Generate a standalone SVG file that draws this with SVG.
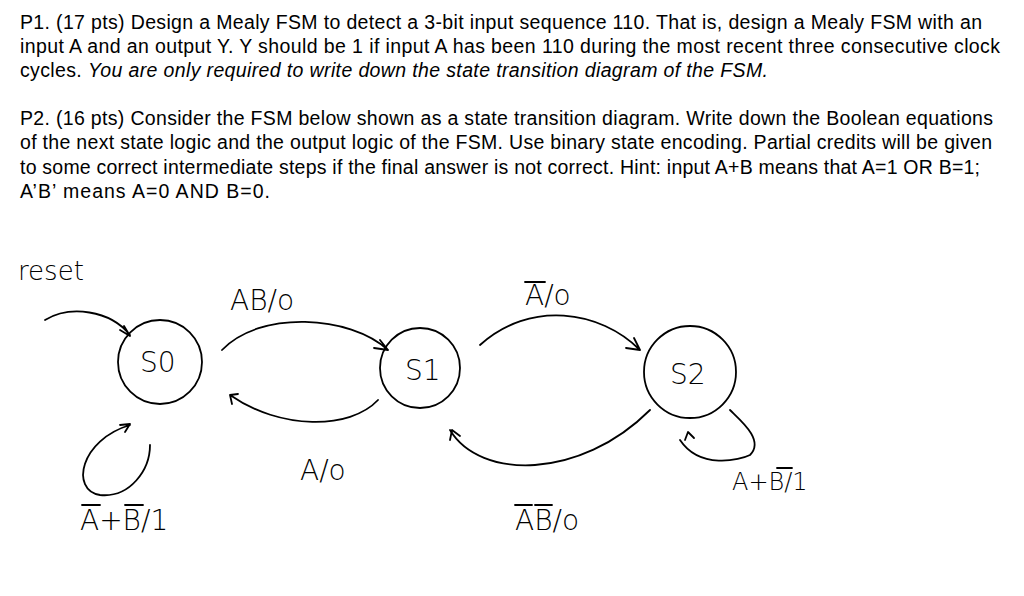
<svg xmlns="http://www.w3.org/2000/svg" width="1024" height="596" viewBox="0 0 1024 596">
<style>
.t{font-family:"Liberation Sans",Arial,sans-serif;font-size:19.5px;fill:#000}
.i{font-style:italic}
.h{font-family:"DejaVu Sans",sans-serif;font-size:28px;fill:#000;font-weight:200}
.s{fill:none;stroke:#000;stroke-width:1.8;stroke-linecap:round;stroke-linejoin:round}
</style>
<rect width="1024" height="596" fill="#fff"/>
<text class="t" x="20" y="29" textLength="962">P1. (17 pts) Design a Mealy FSM to detect a 3-bit input sequence 110. That is, design a Mealy FSM with an</text>
<text class="t" x="20" y="53" textLength="980">input A and an output Y. Y should be 1 if input A has been 110 during the most recent three consecutive clock</text>
<text class="t" x="20" y="77" textLength="748">cycles. <tspan class="i">You are only required to write down the state transition diagram of the FSM.</tspan></text>
<text class="t" x="20" y="125" textLength="973">P2. (16 pts) Consider the FSM below shown as a state transition diagram. Write down the Boolean equations</text>
<text class="t" x="20" y="149" textLength="972">of the next state logic and the output logic of the FSM. Use binary state encoding. Partial credits will be given</text>
<text class="t" x="20" y="174" textLength="960">to some correct intermediate steps if the final answer is not correct. Hint: input A+B means that A=1 OR B=1;</text>
<text class="t" x="20" y="198" textLength="250">A’B’ means A=0 AND B=0.</text>
<g id="S0"><circle class="s" cx="160" cy="362" r="42"/><text class="h" x="140" y="372">S0</text></g>
<g id="S1"><circle class="s" cx="420" cy="368" r="40"/><text class="h" x="405" y="380">S1</text></g>
<g id="S2"><circle class="s" cx="690" cy="372" r="46"/><text class="h" x="670" y="384">S2</text></g>
<g id="connectors">
<path class="s" d="M45 320 C70 305 110 310 130 335 M120 330 L130 336 L124 326"/>
<path class="s" d="M222 350 C260 310 350 315 388 350 M374 348 L388 350 L380 340"/>
<path class="s" d="M378 400 C350 430 280 430 230 395 M238 394 L230 395 L232 404"/>
<path class="s" d="M480 345 C530 300 600 310 640 350 M626 348 L640 350 L634 338"/>
<path class="s" d="M450 430 C480 480 580 480 650 410"/>
<path class="s" d="M450 440 L452 430 L460 436"/>
<path class="s" d="M130 425 C80 440 70 490 100 495 C130 498 150 470 150 445 M120 425 L130 424 L125 432"/>
<path class="s" d="M680 440 C700 470 740 460 750 455 C765 440 740 420 730 410"/>
<path class="s" d="M685 440 L688 432 L694 438"/>
</g>
<g class="h">
<text x="18" y="280" font-size="26">reset</text>
<text x="230" y="310">AB/o</text>
<text x="525" y="305">A/o</text>
<line class="s" x1="525" y1="282" x2="545" y2="282"/>
<text x="300" y="480">A/o</text>
<text x="515" y="530">AB/o</text>
<line class="s" x1="515" y1="505" x2="532" y2="505"/>
<line class="s" x1="535" y1="505" x2="552" y2="505"/>
<text x="80" y="530">A+B/1</text>
<line class="s" x1="82" y1="505" x2="100" y2="505"/>
<line class="s" x1="125" y1="505" x2="143" y2="505"/>
<text x="732" y="490" font-size="24">A+B/1</text>
<line class="s" x1="777" y1="468" x2="792" y2="468"/>
</g>
</svg>
